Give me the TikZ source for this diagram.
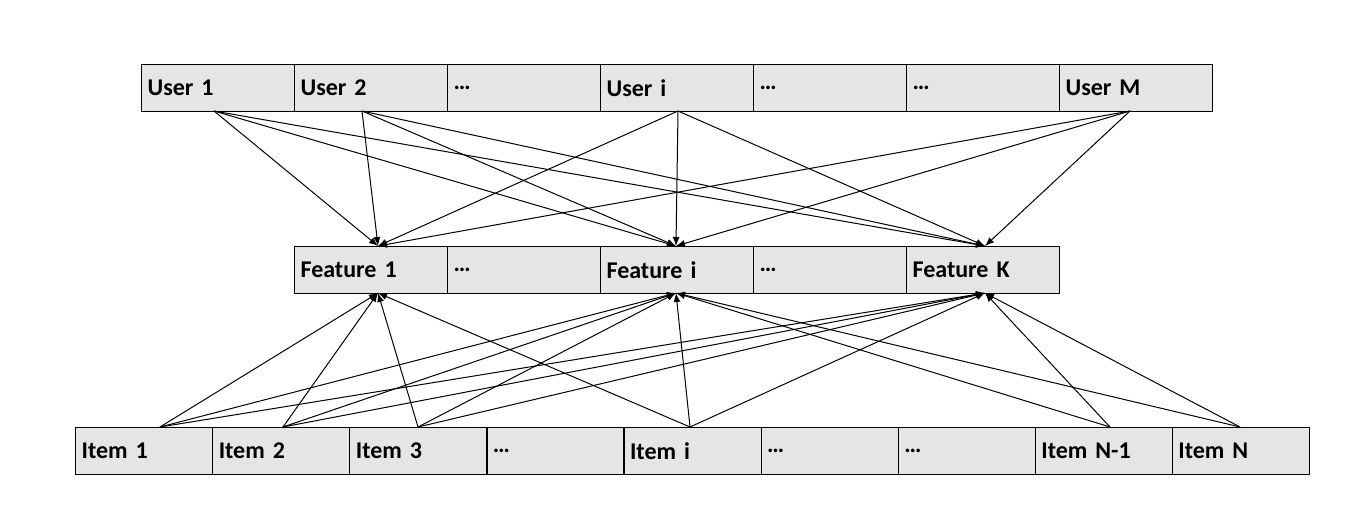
\documentclass[tikz,border=0pt]{standalone}
\usepackage{fontspec}
\setmainfont{Carlito}
\usetikzlibrary{arrows.meta}

\tikzset{
  cell/.style={draw=black, fill=gray!20, line width=1.2pt, anchor=north west,
    inner sep=0pt, text depth=0pt, font=\fontsize{24}{28}\selectfont\bfseries,
    align=left},
  link/.style={-{Latex[length=9pt,width=7pt]}, line width=1pt}
}

\begin{document}
\begin{tikzpicture}[x=1pt,y=-1pt]
\useasboundingbox (0,0) rectangle (1358,529);
% users
\foreach \t [count=\k from 0] in {User 1,User 2,\dots,User i,\dots,\dots,User M}
  \node[cell, minimum width=153pt, minimum height=47pt, text width=141pt]
    (u\k) at (141+153*\k,64) {\t};
% features
\foreach \t [count=\k from 0] in {Feature 1,\dots,Feature i,\dots,Feature K}
  \node[cell, minimum width=153pt, minimum height=47pt, text width=141pt]
    (f\k) at (294+153*\k,246) {\t};
% items
\foreach \t [count=\k from 0] in {Item 1,Item 2,Item 3,\dots,Item i,\dots,\dots,Item N-1,Item N}
  \node[cell, minimum width=137.1pt, minimum height=47pt, text width=125pt]
    (t\k) at (75+137.1*\k,427) {\t};
% anchor points
\coordinate (fa) at (378,246); \coordinate (fb) at (676,246); \coordinate (fc) at (985,246);
\coordinate (ga) at (378,293); \coordinate (gb) at (676,293); \coordinate (gc) at (985,293);
\coordinate (ua) at (214,111); \coordinate (ub) at (362,111);
\coordinate (uc) at (678,111); \coordinate (ud) at (1130,111);
\coordinate (ia) at (160,427); \coordinate (ib) at (283,427); \coordinate (ic) at (418,427);
\coordinate (id) at (690,427); \coordinate (ie) at (1110,427); \coordinate (if) at (1240,427);
% users to features
\foreach \u in {ua,ub,uc,ud}
  \foreach \f in {fa,fb,fc}
    \draw[link] (\u) -- (\f);
% items to features
\foreach \i in {ia,ib,ic,id}
  \foreach \f in {ga,gb,gc}
    \draw[link] (\i) -- (\f);
\foreach \i in {ie,if}
  \foreach \f in {gb,gc}
    \draw[link] (\i) -- (\f);
\end{tikzpicture}
\end{document}
